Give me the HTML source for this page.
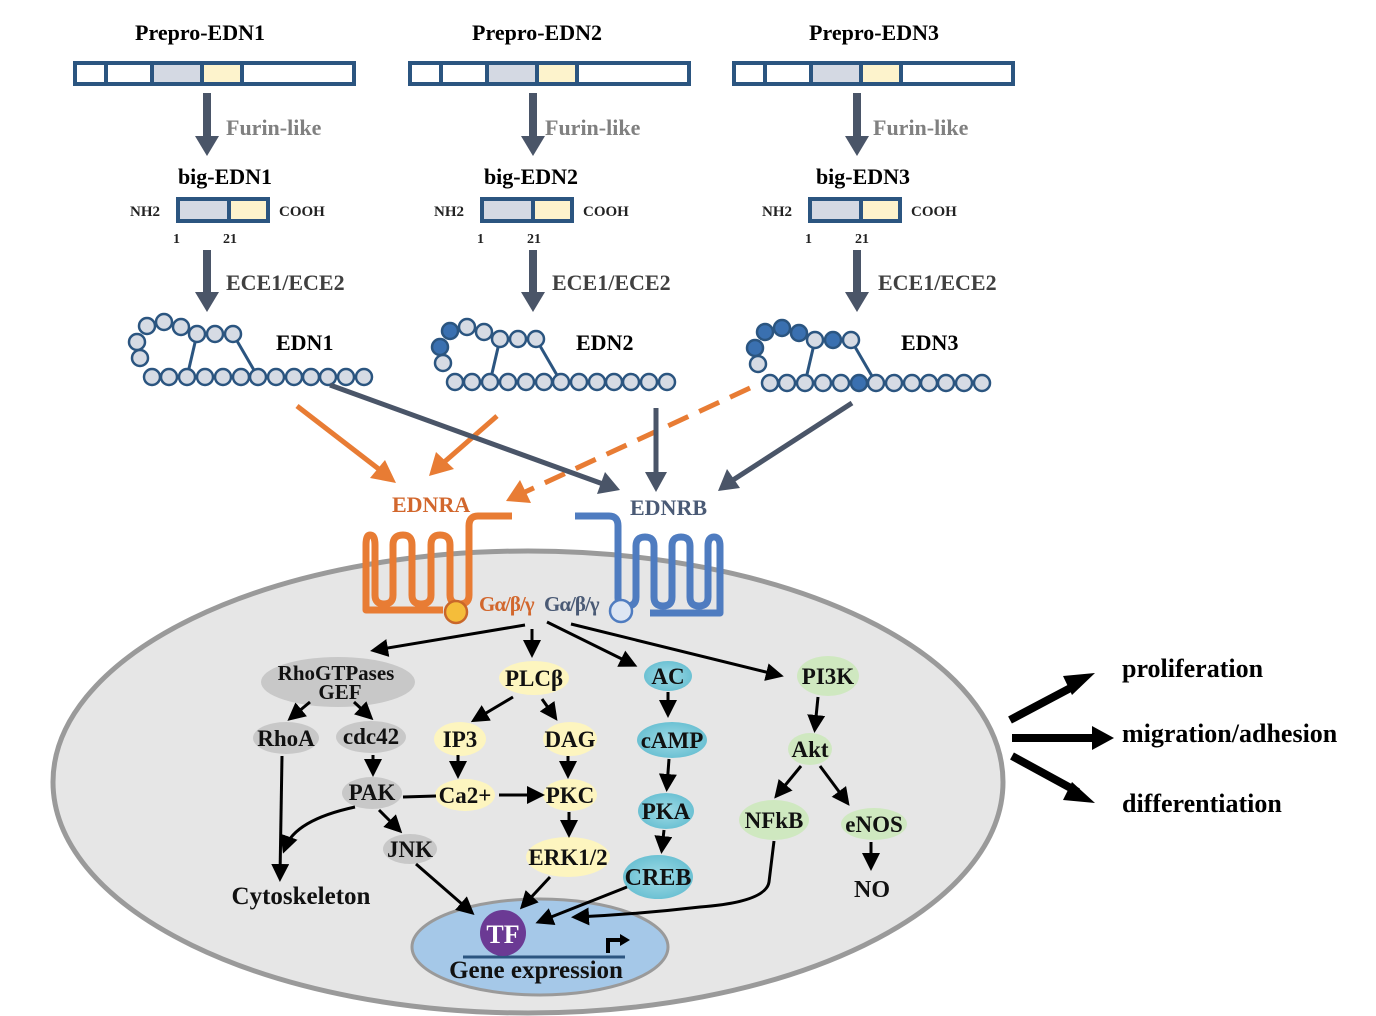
<!DOCTYPE html>
<html><head><meta charset="utf-8"><style>
html,body{margin:0;padding:0;background:#fff}
svg{display:block}
text{font-family:"Liberation Serif",serif;font-weight:bold}
</style></head><body>
<svg width="1376" height="1016" viewBox="0 0 1376 1016" xmlns="http://www.w3.org/2000/svg">
<defs>
<marker id="ab" markerWidth="6" markerHeight="6" refX="4" refY="3" orient="auto" markerUnits="strokeWidth"><path d="M0,0 L6,3 L0,6 z" fill="#000"/></marker>
<radialGradient id="teal" cx="50%" cy="50%" r="50%"><stop offset="0" stop-color="#9fdbe6"/><stop offset="1" stop-color="#6cc1d3"/></radialGradient>
<g id="pre">
<rect x="75" y="63" width="279" height="21" fill="#fff" stroke="#2b5580" stroke-width="4"/>
<rect x="152" y="63" width="50" height="21" fill="#d4d9e3" stroke="#2b5580" stroke-width="4"/>
<rect x="202" y="63" width="40" height="21" fill="#fdf3cc" stroke="#2b5580" stroke-width="4"/>
<line x1="106" y1="63" x2="106" y2="84" stroke="#2b5580" stroke-width="4"/>
</g>
<g id="big">
<rect x="178" y="199" width="90" height="22" fill="#d4d9e3" stroke="#2b5580" stroke-width="4"/>
<rect x="229" y="199" width="39" height="22" fill="#fdf3cc" stroke="#2b5580" stroke-width="4"/>
<text x="130" y="216" font-size="15" fill="#222">NH2</text>
<text x="279" y="216" font-size="15" fill="#222">COOH</text>
<text x="173" y="243" font-size="14" fill="#222">1</text>
<text x="223" y="243" font-size="14" fill="#222">21</text>
</g>
<g id="bridges" stroke="#2b5580" stroke-width="3">
<line x1="197" y1="334" x2="187" y2="377"/><line x1="233" y1="334" x2="258" y2="377"/>
</g>
<g id="cbot" fill="#d6dbe4" stroke="#2b5580" stroke-width="2.5">
<circle cx="152" cy="377" r="8"/><circle cx="169" cy="377" r="8"/><circle cx="187" cy="377" r="8"/><circle cx="205" cy="377" r="8"/><circle cx="223" cy="377" r="8"/><circle cx="258" cy="377" r="8"/><circle cx="276" cy="377" r="8"/><circle cx="294" cy="377" r="8"/><circle cx="311" cy="377" r="8"/><circle cx="328" cy="377" r="8"/><circle cx="346" cy="377" r="8"/><circle cx="364" cy="377" r="8"/>
<circle cx="140" cy="358" r="8"/><circle cx="197" cy="334" r="8"/><circle cx="233" cy="334" r="8"/>
</g>
</defs>

<ellipse cx="528" cy="782" rx="475" ry="231" fill="#e6e6e6" stroke="#9a9a9a" stroke-width="5"/>

<g font-size="22" text-anchor="middle">
<text x="200" y="40">Prepro-EDN1</text>
<text x="537" y="40">Prepro-EDN2</text>
<text x="874" y="40">Prepro-EDN3</text>
</g>
<use href="#pre"/><use href="#pre" transform="translate(335,0)"/><use href="#pre" transform="translate(659,0)"/>

<g fill="#4a5568">
<rect x="203" y="93" width="8" height="44"/><polygon points="195,136 219,136 207,156"/>
<rect x="529" y="93" width="8" height="44"/><polygon points="521,136 545,136 533,156"/>
<rect x="853" y="93" width="8" height="44"/><polygon points="845,136 869,136 857,156"/>
<rect x="203" y="250" width="8" height="43"/><polygon points="195,292 219,292 207,312"/>
<rect x="529" y="250" width="8" height="43"/><polygon points="521,292 545,292 533,312"/>
<rect x="853" y="250" width="8" height="43"/><polygon points="845,292 869,292 857,312"/>
</g>
<g font-size="22" fill="#808080">
<text x="226" y="135">Furin-like</text><text x="545" y="135">Furin-like</text><text x="873" y="135">Furin-like</text>
</g>
<g font-size="22" fill="#404040">
<text x="226" y="290">ECE1/ECE2</text><text x="552" y="290">ECE1/ECE2</text><text x="878" y="290">ECE1/ECE2</text>
</g>
<g font-size="22" text-anchor="middle">
<text x="225" y="184">big-EDN1</text>
<text x="531" y="184">big-EDN2</text>
<text x="863" y="184">big-EDN3</text>
</g>
<use href="#big"/><use href="#big" transform="translate(304,0)"/><use href="#big" transform="translate(632,0)"/>

<g>
<use href="#bridges"/><use href="#cbot"/>
<g fill="#d6dbe4" stroke="#2b5580" stroke-width="2.5"><circle cx="137" cy="342" r="8"/><circle cx="147" cy="326" r="8"/><circle cx="164" cy="322" r="8"/><circle cx="181" cy="327" r="8"/><circle cx="215" cy="334" r="8"/><circle cx="241" cy="377" r="8"/></g>
</g>
<g transform="translate(303,5)">
<use href="#bridges"/><use href="#cbot"/>
<g fill="#d6dbe4" stroke="#2b5580" stroke-width="2.5"><circle cx="164" cy="322" r="8"/><circle cx="181" cy="327" r="8"/><circle cx="215" cy="334" r="8"/><circle cx="241" cy="377" r="8"/></g>
<g fill="#3a70b0" stroke="#2b5580" stroke-width="2.5"><circle cx="137" cy="342" r="8"/><circle cx="147" cy="326" r="8"/></g>
</g>
<g transform="translate(618,6)">
<use href="#bridges"/><use href="#cbot"/>
<g fill="#3a70b0" stroke="#2b5580" stroke-width="2.5"><circle cx="137" cy="342" r="8"/><circle cx="147" cy="326" r="8"/><circle cx="164" cy="322" r="8"/><circle cx="181" cy="327" r="8"/><circle cx="215" cy="334" r="8"/><circle cx="241" cy="377" r="8"/></g>
</g>
<g font-size="22">
<text x="276" y="350">EDN1</text>
<text x="576" y="350">EDN2</text>
<text x="901" y="350">EDN3</text>
</g>

<g stroke="#e87c34" stroke-width="5" fill="none">
<line x1="297" y1="406" x2="380" y2="470"/>
<line x1="497" y1="416" x2="442" y2="464"/>
<line x1="750" y1="388" x2="525" y2="492" stroke-dasharray="22,12"/>
</g>
<g fill="#e87c34">
<polygon points="396,483 370,478 385,460"/>
<polygon points="429,476 436,452 454,469"/>
<polygon points="506,501 520,480 531,503"/>
</g>
<g stroke="#4a5568" stroke-width="5" fill="none">
<line x1="330" y1="385" x2="603" y2="484"/>
<line x1="656" y1="408" x2="656" y2="475"/>
<line x1="852" y1="403" x2="733" y2="480"/>
</g>
<g fill="#4a5568">
<polygon points="620,490 597,494 605,472"/>
<polygon points="645,472 667,472 656,492"/>
<polygon points="718,491 727,469 740,488"/>
</g>
<text x="392" y="512" font-size="22" fill="#d2672d">EDNRA</text>
<text x="630" y="515" font-size="22" fill="#4a5a75">EDNRB</text>

<path d="M512,516 H478 Q469,516 469,526 V595 Q469,604 460,604 Q450,604 450,595 V545 Q450,535 440,535 Q431,535 431,545 V595 Q431,604 421,604 Q412,604 412,595 V545 Q412,535 403,535 Q393,535 393,545 V595 Q393,604 384,604 Q375,604 375,595 V545 Q375,535 370,535 Q366,535 366,545 V610 H443" fill="none" stroke="#e87c34" stroke-width="7" stroke-linejoin="round"/>
<circle cx="456" cy="612" r="11" fill="#f5bd3a" stroke="#c9672a" stroke-width="2.5"/>
<path d="M575,516 H609 Q618,516 618,526 V598 Q618,606 627,606 Q636,606 636,597 V546 Q636,537 645,537 Q654,537 654,546 V597 Q654,606 663,606 Q672,606 672,597 V546 Q672,537 681,537 Q690,537 690,546 V597 Q690,606 699,606 Q708,606 708,597 V546 Q708,537 714,537 Q720,537 720,546 V613 H650" fill="none" stroke="#4f7cc0" stroke-width="7" stroke-linejoin="round"/>
<circle cx="621" cy="611" r="11" fill="#dde6f3" stroke="#4f7cc0" stroke-width="2.5"/>
<text x="479" y="611" font-size="21" fill="#d2672d" style="letter-spacing:-1px">Gα/β/γ</text>
<text x="544" y="611" font-size="21" fill="#4a5a75" style="letter-spacing:-1px">Gα/β/γ</text>

<g>
<ellipse cx="338" cy="682" rx="77" ry="25" fill="#c8c8c8"/>
<ellipse cx="286" cy="738" rx="33" ry="16" fill="#c8c8c8"/>
<ellipse cx="371" cy="737" rx="35" ry="16" fill="#c8c8c8"/>
<ellipse cx="372" cy="793" rx="30" ry="16" fill="#c8c8c8"/>
<ellipse cx="410" cy="849" rx="27" ry="15" fill="#c8c8c8"/>
<ellipse cx="534" cy="678" rx="35" ry="17" fill="#fdf5bf"/>
<ellipse cx="460" cy="739" rx="26" ry="17" fill="#fdf5bf"/>
<ellipse cx="570" cy="739" rx="27" ry="17" fill="#fdf5bf"/>
<ellipse cx="465" cy="795" rx="30" ry="16" fill="#fdf5bf"/>
<ellipse cx="570" cy="795" rx="27" ry="16" fill="#fdf5bf"/>
<ellipse cx="568" cy="857" rx="42" ry="20" fill="#fdf5bf"/>
<ellipse cx="668" cy="676" rx="24" ry="15" fill="url(#teal)"/>
<ellipse cx="672" cy="740" rx="35" ry="18" fill="url(#teal)"/>
<ellipse cx="666" cy="811" rx="28" ry="18" fill="url(#teal)"/>
<ellipse cx="658" cy="877" rx="35" ry="22" fill="url(#teal)"/>
<ellipse cx="828" cy="676" rx="31" ry="20" fill="#cfe8c0"/>
<ellipse cx="810" cy="749" rx="22" ry="16" fill="#cfe8c0"/>
<ellipse cx="774" cy="820" rx="35" ry="20" fill="#cfe8c0"/>
<ellipse cx="874" cy="824" rx="33" ry="16" fill="#cfe8c0"/>
</g>
<ellipse cx="540" cy="947" rx="128" ry="48" fill="#a5c8e8" stroke="#9a9a9a" stroke-width="3"/>
<line x1="463" y1="957" x2="625" y2="957" stroke="#2b5580" stroke-width="3"/>
<path d="M608,953 V940 H622" fill="none" stroke="#000" stroke-width="4"/>
<polygon points="620,934 630,940 620,946" fill="#000"/>
<circle cx="503" cy="933" r="23" fill="#6b3a94"/>
<text x="503" y="943" font-size="26" fill="#fff" text-anchor="middle">TF</text>

<g font-size="23" text-anchor="middle" fill="#111">
<text x="336" y="680" font-size="21">RhoGTPases</text>
<text x="340" y="699" font-size="21">GEF</text>
<text x="286" y="746">RhoA</text>
<text x="371" y="744">cdc42</text>
<text x="372" y="800">PAK</text>
<text x="410" y="857">JNK</text>
<text x="534" y="686">PLCβ</text>
<text x="460" y="747">IP3</text>
<text x="570" y="747">DAG</text>
<text x="465" y="803">Ca2+</text>
<text x="570" y="803">PKC</text>
<text x="568" y="865">ERK1/2</text>
<text x="668" y="684">AC</text>
<text x="672" y="748">cAMP</text>
<text x="666" y="819">PKA</text>
<text x="658" y="885" font-size="24">CREB</text>
<text x="828" y="684">PI3K</text>
<text x="810" y="757">Akt</text>
<text x="774" y="828">NFkB</text>
<text x="874" y="832">eNOS</text>
<text x="872" y="897" font-size="24">NO</text>
<text x="301" y="904" font-size="25">Cytoskeleton</text>
<text x="536" y="978" font-size="25">Gene expression</text>
</g>

<g stroke="#000" stroke-width="3" fill="none" marker-end="url(#ab)">
<line x1="525" y1="625" x2="376" y2="650"/>
<line x1="532" y1="629" x2="532" y2="652"/>
<line x1="547" y1="622" x2="632" y2="664"/>
<line x1="571" y1="624" x2="778" y2="675"/>
<line x1="310" y1="702" x2="292" y2="717"/>
<line x1="354" y1="702" x2="369" y2="716"/>
<line x1="282" y1="756" x2="280" y2="876"/>
<line x1="373" y1="755" x2="373" y2="771"/>
<path d="M355,807 Q295,820 285,848"/>
<line x1="379" y1="810" x2="398" y2="829"/>
<line x1="416" y1="864" x2="470" y2="911"/>
<line x1="513" y1="697" x2="476" y2="719"/>
<line x1="542" y1="699" x2="554" y2="716"/>
<line x1="458" y1="755" x2="458" y2="773"/>
<line x1="499" y1="795" x2="539" y2="795"/>
<line x1="568" y1="756" x2="568" y2="773"/>
<line x1="569" y1="812" x2="569" y2="832"/>
<line x1="550" y1="877" x2="524" y2="905"/>
<line x1="668" y1="692" x2="668" y2="712"/>
<line x1="669" y1="759" x2="667" y2="786"/>
<line x1="664" y1="830" x2="662" y2="848"/>
<line x1="627" y1="887" x2="541" y2="921"/>
<line x1="818" y1="697" x2="815" y2="727"/>
<line x1="801" y1="766" x2="778" y2="794"/>
<line x1="820" y1="766" x2="846" y2="801"/>
<line x1="871" y1="842" x2="871" y2="865"/>
<path d="M774,841 L769,882 Q766,902 700,907 Q640,914 577,917"/>
</g>
<line x1="403" y1="797" x2="436" y2="796" stroke="#000" stroke-width="3"/>

<g stroke="#000" stroke-width="8">
<line x1="1010" y1="720" x2="1078" y2="684"/>
<line x1="1012" y1="738" x2="1095" y2="738"/>
<line x1="1012" y1="756" x2="1078" y2="792"/>
</g>
<g fill="#000">
<polygon points="1095,673 1072,695 1063,676"/>
<polygon points="1114,738 1092,726 1092,750"/>
<polygon points="1095,803 1063,800 1072,782"/>
</g>
<g font-size="26">
<text x="1122" y="677">proliferation</text>
<text x="1122" y="742">migration/adhesion</text>
<text x="1122" y="812">differentiation</text>
</g>
</svg>
</body></html>
